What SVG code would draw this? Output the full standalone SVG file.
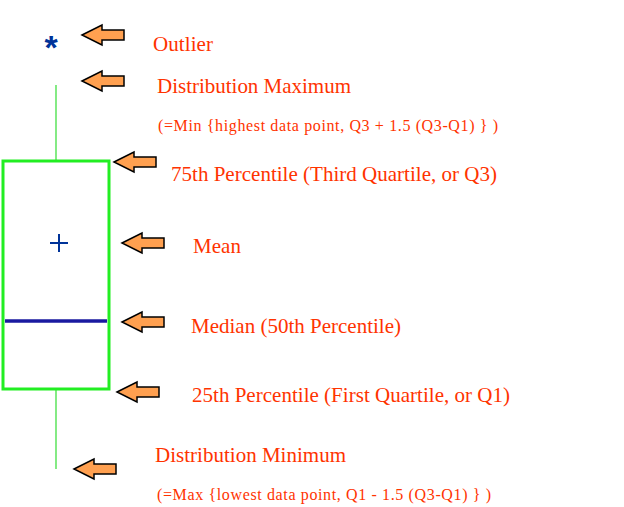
<svg xmlns="http://www.w3.org/2000/svg" width="624" height="507" viewBox="0 0 624 507">
<style>
.t{font-family:"Liberation Serif",serif;font-size:21px;fill:#ff3300}
.s{font-family:"Liberation Serif",serif;font-size:16px;fill:#ff3300}
.ar{fill:#ffa050;stroke:#000;stroke-width:1.5}
</style>
<defs>
<path id="arrow" class="ar" d="M0,0 L20,-10 L20,-5 L42,-5 L42,5 L20,5 L20,10 Z"/>
</defs>
<g id="box">
<line x1="56" y1="85" x2="56" y2="161" stroke="#33dd33" stroke-width="1.2"/>
<line x1="56" y1="390" x2="56" y2="469" stroke="#33dd33" stroke-width="1.2"/>
<rect x="3" y="161" width="106" height="228" fill="none" stroke="#22ee22" stroke-width="3"/>
<line x1="5" y1="321" x2="107" y2="321" stroke="#1a1aa0" stroke-width="3.5"/>
<path d="M50,243 H68 M59,234 V252" stroke="#003399" stroke-width="2" fill="none"/>
<text x="51" y="59" font-family="Liberation Sans,sans-serif" font-size="34" font-weight="bold" fill="#003399" text-anchor="middle">*</text>
</g>
<g id="connectors">
<use href="#arrow" x="82" y="35"/>
<use href="#arrow" x="82" y="81"/>
<use href="#arrow" x="114" y="162"/>
<use href="#arrow" x="122" y="243"/>
<use href="#arrow" x="122" y="322"/>
<use href="#arrow" x="117" y="392"/>
<use href="#arrow" x="74" y="469"/>
</g>
<g id="labels">
<text class="t" x="153" y="51" textLength="60">Outlier</text>
<text class="t" x="157" y="93" textLength="194">Distribution Maximum</text>
<text class="s" x="158" y="131" textLength="340">(=Min {highest data point, Q3 + 1.5 (Q3-Q1) } )</text>
<text class="t" x="171" y="181" textLength="326">75th Percentile (Third Quartile, or Q3)</text>
<text class="t" x="193" y="253" textLength="48">Mean</text>
<text class="t" x="191" y="333" textLength="210">Median (50th Percentile)</text>
<text class="t" x="192" y="402" textLength="318">25th Percentile (First Quartile, or Q1)</text>
<text class="t" x="155" y="462" textLength="191">Distribution Minimum</text>
<text class="s" x="157" y="500" textLength="334">(=Max {lowest data point, Q1 - 1.5 (Q3-Q1) } )</text>
</g>
</svg>
